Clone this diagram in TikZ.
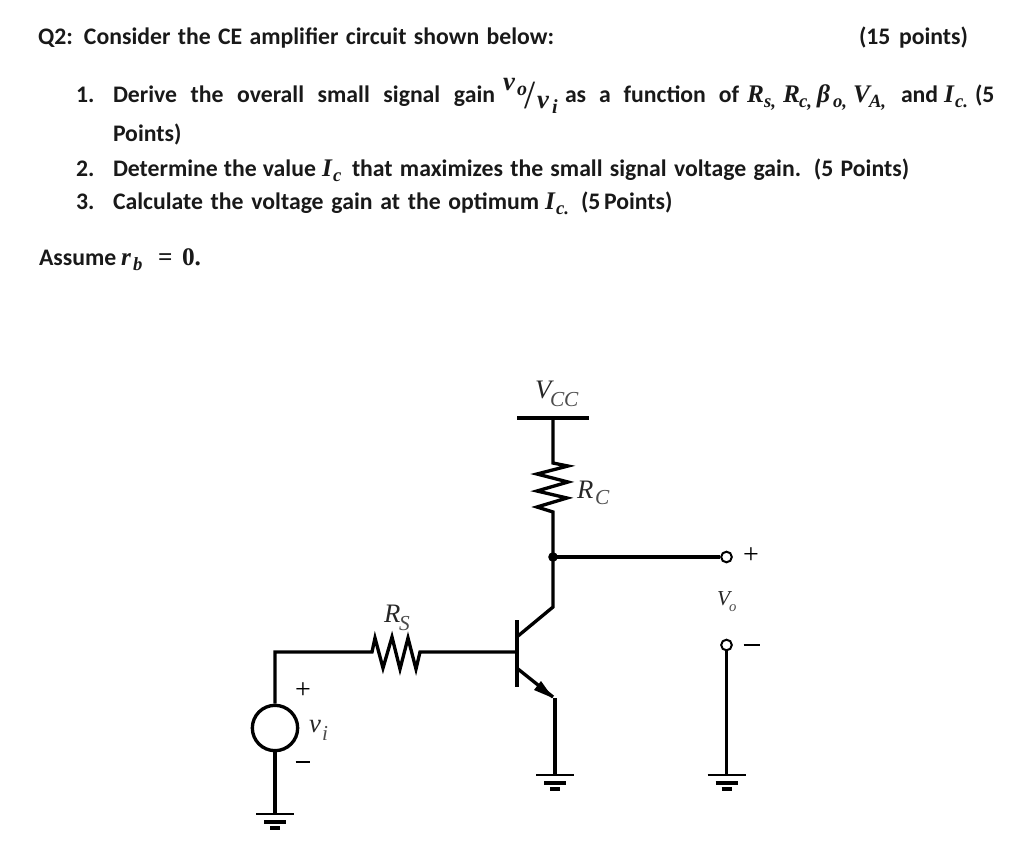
\documentclass[tikz,border=0pt]{standalone}
\usepackage{fontspec}
\setmainfont{Carlito}
\newfontfamily\qmath{Liberation Serif}
\tikzset{
  x=0.75pt,y=-0.75pt,
  txt/.style={inner sep=0,outer sep=0,anchor=base west,font=\fontsize{17.8}{20}\selectfont\bfseries,text=black!90},
  mth/.style={inner sep=0,outer sep=0,anchor=base west,font=\fontsize{19}{20}\selectfont\qmath\bfseries\itshape,text=black!90},
  msub/.style={inner sep=0,outer sep=0,anchor=base west,font=\fontsize{14}{14}\selectfont\qmath\bfseries\itshape,text=black!90},
  wire/.style={draw=black,line width=2.5pt,line join=miter},
  term/.style={circle,draw=black,line width=1.5pt,fill=white,minimum size=8pt,inner sep=0},
  clab/.style={inner sep=0,outer sep=0,anchor=base west,font=\fontsize{20}{20}\selectfont\qmath\itshape,text=black!85},
  csub/.style={inner sep=0,outer sep=0,anchor=base west,font=\fontsize{16}{16}\selectfont\qmath\itshape,text=black!70},
  sgn/.style={inner sep=0,outer sep=0,font=\fontsize{21}{21}\selectfont\qmath,text=black}
}
\newcommand{\fitw}[2]{\makebox[\dimexpr #1pt*3/4\relax][s]{#2}}
\newcommand{\gnd}[2]{%
  \draw[wire,line width=2pt] (#1-19,#2) -- (#1+19,#2);
  \draw[wire,line width=2.4pt] (#1-11,#2+8) -- (#1+11,#2+8);
  \draw[wire,line width=3.6pt] (#1-5,#2+14) -- (#1+5,#2+14);
}
\begin{document}
\begin{tikzpicture}
\useasboundingbox (0,0) rectangle (1024,853);
% ---- text
\node[txt] (title) at (38,44) {\fitw{516}{Q2: Consider the CE amplifier circuit shown below:}};
\node[txt] (pts) at (859,44) {\fitw{109}{(15 points)}};
\node[txt] (n1) at (76,102) {1.};
\node[txt] (l1a) at (113,102) {\fitw{382}{Derive the overall small signal gain}};
\node[mth,font=\fontsize{20}{20}\selectfont\qmath\bfseries\itshape] (vo) at (503,90) {v};
\node[msub,font=\fontsize{15}{15}\selectfont\qmath\bfseries\itshape] (voS) at (517,95) {o};
\node[txt,font=\fontsize{30}{30}\selectfont\qmath] (slash) at (524,108) {/};
\node[mth,font=\fontsize{20}{20}\selectfont\qmath\bfseries\itshape] (vi) at (537,108) {v};
\node[msub,font=\fontsize{15}{15}\selectfont\qmath\bfseries\itshape] (viS) at (552,113) {i};
\node[txt] (l1b) at (565,102) {\fitw{174}{as a function of}};
\node[mth] (Rs) at (747,102) {R};
\node[msub] (RsS) at (764,107) {s,};
\node[mth] (Rc) at (783,102) {R};
\node[msub] (RcS) at (799,107) {c,};
\node[mth] (Bo) at (817,102) {β};
\node[msub] (BoS) at (833,107) {o,};
\node[mth] (Va) at (853,102) {V};
\node[msub] (VaS) at (869,107) {A,};
\node[txt] (l1and) at (901,102) {and};
\node[mth] (Ic1) at (944,102) {I};
\node[msub] (Ic1S) at (955,107) {c.};
\node[txt] (l1c) at (975,102) {(5};
\node[txt] (l1d) at (113,141) {Points)};
\node[txt] (n2) at (76,176) {2.};
\node[txt] (l2a) at (113,176) {\fitw{203}{Determine the value}};
\node[mth] (Ic2) at (322,176) {I};
\node[msub] (Ic2S) at (333,181) {c};
\node[txt] (l2b) at (352,176) {\fitw{557}{that maximizes the small signal voltage gain. (5 Points)}};
\node[txt] (n3) at (76,209) {3.};
\node[txt] (l3a) at (113,209) {\fitw{426}{Calculate the voltage gain at the optimum}};
\node[mth] (Ic3) at (545,209) {I};
\node[msub] (Ic3S) at (556,214) {c.};
\node[txt] (l3b) at (581,209) {\fitw{91}{(5 Points)}};
\node[txt] (as) at (39,265) {\fitw{77}{Assume}};
\node[mth] (rb) at (121,265) {r};
\node[msub] (rbS) at (133,270) {b};
\node[mth,font=\fontsize{19}{20}\selectfont\qmath\bfseries] (eq) at (158,265) {=};
\node[mth,font=\fontsize{19}{20}\selectfont\qmath\bfseries] (eq2) at (182,265) {0.};
% ---- circuit coordinates
\coordinate (vcc) at (553,418);
\coordinate (rcT) at (553,463);
\coordinate (rcB) at (553,512);
\coordinate (j) at (553,557);
\coordinate (cT) at (553,607);
\coordinate (cB) at (518,636);
\coordinate (b) at (517,652);
\coordinate (eT) at (518,669);
\coordinate (eB) at (553,697);
\coordinate (eD) at (555,698);
\coordinate (g1) at (555,775);
\coordinate (g2) at (726.5,775);
\coordinate (rsL) at (372,652);
\coordinate (rsR) at (420,652);
\coordinate (cor) at (275,652);
\coordinate (g3) at (275,814);
\node[term] (op) at (726.5,557) {};
\node[term] (om) at (726.5,645) {};
\node[circle,draw=black,line width=2.5pt,minimum size=34pt,inner sep=0] (src) at (275,728) {};
% ---- wires
\draw[wire,line width=3.6pt] (517,418) -- (589,418);
\draw[wire] (vcc) -- (rcT) -- (568,466) -- (537,474) -- (568,482) -- (537,491) -- (567,498) -- (537,507) -- (rcB) -- (j) -- (cT) -- (cB);
\fill (j) circle (3.6pt);
\draw[wire] (j) -- (op);
\draw[wire,line width=2.6pt] (517,620) -- (517,687);
\draw[wire] (src) -- (cor) -- (rsL) -- (375,638) -- (383,668) -- (392,637) -- (400,669) -- (408,638) -- (416,669) -- (rsR) -- (b);
\draw[wire] (eT) -- (eB);
\fill (553,698) -- (534,690) -- (541,681) -- cycle;
\draw[wire] (eD) -- (g1);
\draw[wire] (om) -- (g2);
\draw[wire] (src) -- (g3);
\gnd{555}{775}
\gnd{726.5}{775}
\gnd{275}{814}
% ---- circuit labels
\node[clab] (lv) at (535,398) {V};
\node[csub] (lvs) at (550,406) {CC};
\node[clab] (lrc) at (577,498) {R};
\node[csub] (lrcs) at (595,504) {C};
\node[clab] (lrs) at (384,622) {R};
\node[csub] (lrss) at (399,630) {S};
\node[clab,font=\fontsize{16}{16}\selectfont\qmath\itshape] (lvo) at (717,605) {V};
\node[csub,font=\fontsize{11}{11}\selectfont\qmath\itshape] (lvos) at (729,611) {o};
\node[clab] (lvi) at (309,732) {v};
\node[csub] (lvis) at (322,740) {i};
\node[sgn] (pp) at (751,556) {+};
\node[sgn] (pm) at (752,645) {\rule{12.5pt}{1.1pt}};
\node[sgn] (sp) at (303,691) {+};
\node[sgn] (sm) at (303,762) {\rule{11pt}{1.4pt}};
\end{tikzpicture}
\end{document}
